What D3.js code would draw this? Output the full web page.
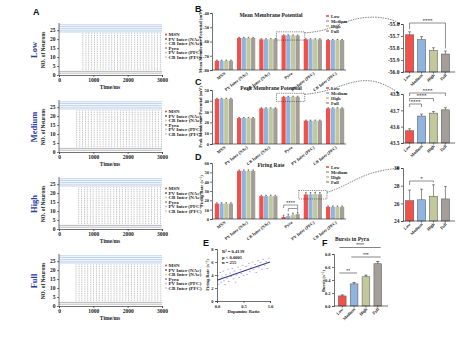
<!DOCTYPE html>
<html>
<head>
<meta charset="utf-8">
<script src="https://cdn.jsdelivr.net/npm/d3@7"></script>
<style>
html, body { margin: 0; padding: 0; background: #fff; }
svg { display: block; }
text { font-family: "Liberation Serif", "DejaVu Serif", serif; font-weight: bold; fill: #222; }
.letter { font-family: "Liberation Sans", Arial, sans-serif; font-size: 9px; fill: #111; }
</style>
</head>
<body>
<svg width="474" height="340"></svg>
<script>
// ---- data ----
var rasterConds = ["Low", "Medium", "High", "Full"];
var rasterTicksX = [0, 1000, 2000, 3000];
var rasterTicksY = [0, 5, 10, 15, 20, 25];
var cellTypes = ["MSN", "PV Inter (NAc)", "CB Inter (NAc)", "Pyra", "PV Inter (PFC)", "CB Inter (PFC)"];
var cellColors = ["#e8433f", "#5d6470", "#d8d27c", "#8c8c8c", "#a9c4e6", "#c9ccd2"];
var baseRows = [1, 2];
var pyraRows = [3, 4, 5, 6, 7, 8, 9, 10, 11, 12, 13, 14, 15, 16, 17, 18, 19, 20, 21, 22, 23];
var tonicRows = [24, 25, 26, 27, 28];
// burst onset times (ms) of the pyramidal population, per condition
var lowBursts = [680, 770, 850, 935, 1020, 1100, 1190, 1270, 1350, 1440, 1520, 1600, 1690, 1770, 1850, 1940, 2020, 2100, 2190, 2270, 2350, 2440, 2520, 2600, 2690, 2770, 2850, 2940];
var mediumBursts = [500, 590, 670, 760, 840, 930, 1010, 1100, 1180, 1270, 1350, 1440, 1520, 1610, 1690, 1780, 1860, 1950, 2030, 2120, 2200, 2290, 2370, 2460, 2540, 2630, 2710, 2800, 2880, 2970];
var highBursts = [560, 640, 730, 810, 900, 980, 1070, 1150, 1240, 1320, 1410, 1490, 1580, 1660, 1750, 1830, 1920, 2000, 2090, 2170, 2260, 2340, 2430, 2510, 2600, 2680, 2770, 2850, 2940];
var fullBursts = [480, 570, 650, 740, 820, 910, 990, 1080, 1160, 1250, 1330, 1420, 1500, 1590, 1670, 1760, 1840, 1930, 2010, 2100, 2180, 2270, 2350, 2440, 2520, 2610, 2690, 2780, 2860, 2950];
var rasterBursts = [lowBursts, mediumBursts, highBursts, fullBursts];

var conds = ["Low", "Medium", "High", "Full"];
var condColors = ["#f2504b", "#8fb4df", "#c3c89c", "#a49e98"];

// B: mean membrane potential (mV), rows = cell types, cols = Low/Medium/High/Full
var meanPotential = [
  [-73.5, -73.5, -73.5, -73.5],
  [-57.5, -57.5, -57.5, -57.5],
  [-58.5, -58.5, -58.4, -58.4],
  [-55.69, -55.73, -55.82, -55.85],
  [-58.5, -58.5, -58.5, -58.5],
  [-59.0, -59.0, -59.0, -59.0]
];
var meanPotTicks = [-80, -70, -60, -50, -40];
var pyraMeanPot = [-55.69, -55.73, -55.82, -55.85];
var pyraMeanPotErr = [0.025, 0.025, 0.022, 0.025];
var pyraMeanPotTicks = [-56.0, -55.9, -55.8, -55.7, -55.6];
var pyraMeanPotSig = [["Low", "Full", "****"]];

// C: peak membrane potential (mV)
var peakPotential = [
  [41.8, 41.8, 41.8, 41.8],
  [24.0, 24.0, 24.0, 24.0],
  [33.0, 33.0, 33.0, 33.0],
  [43.58, 43.67, 43.68, 43.70],
  [21.6, 21.6, 21.6, 21.6],
  [33.0, 33.0, 33.0, 33.0]
];
var peakPotTicks = [0, 10, 20, 30, 40, 50];
var pyraPeakPot = [43.575, 43.665, 43.683, 43.703];
var pyraPeakPotErr = [0.012, 0.012, 0.01, 0.013];
var pyraPeakPotTicks = [43.5, 43.6, 43.7, 43.8];
var pyraPeakPotSig = [["Low", "Medium", "****"], ["Low", "High", "****"], ["Low", "Full", "****"]];

// D: firing rate (1/s)
var firingRate = [
  [16.5, 16.5, 16.5, 16.5],
  [51.5, 51.5, 51.5, 51.5],
  [24.5, 24.5, 24.5, 24.5],
  [2.2, 3.4, 4.4, 5.2],
  [26.3, 26.4, 26.8, 26.5],
  [13.0, 13.0, 13.0, 13.0]
];
var firingRateErr = [0.3, 0.4, 0.3, 1.2, 1.2, 0.3];
var firingTicks = [0, 10, 20, 30, 40, 50, 60];
var pvPfcRate = [26.3, 26.4, 26.8, 26.5];
var pvPfcRateErr = [1.2, 1.2, 1.3, 1.4];
var pvPfcTicks = [24, 26, 28, 30];
var pvPfcSig = [["Low", "High", "*"]];

// E: firing rate vs dopamine ratio
var dopamineRatio = [0.02, 0.03, 0.05, 0.06, 0.08, 0.10, 0.12, 0.13, 0.15, 0.17, 0.19, 0.21, 0.22, 0.25, 0.27, 0.29, 0.31, 0.33, 0.35, 0.37, 0.40, 0.42, 0.44, 0.46, 0.48, 0.50, 0.52, 0.55, 0.57, 0.60, 0.62, 0.64, 0.67, 0.69, 0.72, 0.74, 0.77, 0.79, 0.82, 0.85, 0.87, 0.90, 0.93, 0.95, 0.98];
var scatterRate = [3.9, 2.6, 3.3, 4.4, 2.9, 3.7, 4.6, 3.1, 2.5, 4.1, 3.5, 4.9, 3.0, 4.3, 3.8, 5.0, 3.4, 4.6, 2.9, 4.0, 5.2, 3.6, 4.8, 4.2, 5.5, 3.9, 4.7, 5.3, 4.1, 5.8, 4.5, 5.1, 6.0, 4.8, 5.6, 4.4, 6.2, 5.2, 5.9, 4.9, 6.4, 5.5, 6.1, 5.0, 6.6];
var fitIntercept = 3.2, fitSlope = 2.8;
var fitStats = ["R\u00B2 = 0.4139", "p < 0.0001", "n = 255"];
var ratioTicks = [0, 0.5, 1.0];
var rateTicks = [0, 2, 4, 6, 8];

// F: bursts in pyra
var burstRate = [0.155, 0.34, 0.45, 0.65];
var burstRateErr = [0.015, 0.02, 0.025, 0.035];
var burstTicks = [0, 0.2, 0.4, 0.6, 0.8];
var burstSig = [["Low", "Medium", "**"], ["Medium", "Full", "***"], ["Low", "Full", "****"]];

// ---- drawing ----
var svg = d3.select("svg");
var serif = '"Liberation Serif", "DejaVu Serif", serif';

function styleAxis(g, fs) {
  g.attr("font-family", serif).attr("font-size", fs).attr("font-weight", "bold");
  g.selectAll("path, line").attr("stroke", "#333").attr("stroke-width", 0.7);
  g.selectAll("text").attr("fill", "#222");
}

function letter(t, x, y) {
  svg.append("text").attr("class", "letter").attr("x", x).attr("y", y).text(t);
}

function vLabel(t, x, y, fs) {
  svg.append("text").attr("transform", "translate(" + x + "," + y + ") rotate(-90)")
    .attr("text-anchor", "middle").attr("font-size", fs).text(t);
}

// A: raster plots
letter("A", 33, 15);
rasterConds.forEach(function (cond, i) {
  var dy = i * 77;
  var x = d3.scaleLinear().domain([0, 3000]).range([59, 162]);
  var y = d3.scaleLinear().domain([0, 29]).range([75 + dy, 23 + dy]);
  var g = svg.append("g");

  g.selectAll(".base").data(baseRows).enter().append("line")
    .attr("x1", x(0)).attr("x2", x(3000)).attr("y1", function (r) { return y(r); }).attr("y2", function (r) { return y(r); })
    .attr("stroke", "#a7abb0").attr("stroke-width", 0.8);
  g.selectAll(".tonic").data(tonicRows).enter().append("line")
    .attr("x1", x(0)).attr("x2", x(3000)).attr("y1", function (r) { return y(r); }).attr("y2", function (r) { return y(r); })
    .attr("stroke", "#b7cde9").attr("stroke-width", 0.9);

  rasterBursts[i].forEach(function (t) {
    g.selectAll(null).data(pyraRows).enter().append("rect")
      .attr("x", x(t)).attr("y", function (r) { return y(r) - 0.5; })
      .attr("width", 1).attr("height", 1).attr("fill", "#bdbdbd");
  });

  var ax = g.append("g").attr("transform", "translate(0," + (75 + dy) + ")")
    .call(d3.axisBottom(x).tickValues(rasterTicksX).tickSize(2).tickPadding(1.5).tickFormat(d3.format("d")));
  styleAxis(ax, 5.5);
  var ay = g.append("g").attr("transform", "translate(59,0)")
    .call(d3.axisLeft(y).tickValues(rasterTicksY).tickSize(2).tickPadding(1.5));
  styleAxis(ay, 5.5);
  ay.select(".domain").attr("d", "M0," + y(0) + "V" + y(29));

  svg.append("text").attr("x", 110).attr("y", 89 + dy).attr("text-anchor", "middle").attr("font-size", 5.5).text("Time/ms");
  vLabel("NO. of Neurons", 45, 50 + dy, 5.5);
  svg.append("text").attr("transform", "translate(37," + (50 + dy) + ") rotate(-90)")
    .attr("text-anchor", "middle").attr("font-size", 8.5).style("fill", "#2f3a9c").text(cond);

  cellTypes.forEach(function (c, k) {
    svg.append("circle").attr("cx", 166).attr("cy", 34.5 + dy + k * 4.5).attr("r", 1).attr("fill", cellColors[k]);
    svg.append("text").attr("x", 168.5).attr("y", 36.3 + dy + k * 4.5).attr("font-size", 5).text(c);
  });
});

// grouped bar panels B, C, D
var x0 = d3.scaleBand().domain(cellTypes).range([213, 346]).paddingInner(0.18).paddingOuter(0.08);
var x1 = d3.scaleBand().domain(conds).range([0, x0.bandwidth()]).paddingInner(0.1);

function barPanel(cfg) {
  var y = d3.scaleLinear().domain(cfg.domain).range(cfg.range);
  var g = svg.append("g");
  cellTypes.forEach(function (c, ci) {
    var grp = g.append("g").attr("transform", "translate(" + x0(c) + ",0)");
    grp.selectAll("rect").data(cfg.values[ci]).enter().append("rect")
      .attr("x", function (d, k) { return x1(conds[k]); })
      .attr("y", function (d) { return y(d); })
      .attr("width", x1.bandwidth())
      .attr("height", function (d) { return y(cfg.domain[0]) - y(d); })
      .attr("fill", function (d, k) { return condColors[k]; });
    var e = cfg.err ? cfg.err[ci] : 0;
    grp.selectAll("path").data(cfg.values[ci]).enter().append("path")
      .attr("d", function (d, k) {
        var cx = x1(conds[k]) + x1.bandwidth() / 2, top = y(d + e) - 0.6;
        return "M" + (cx - 0.8) + "," + top + "H" + (cx + 0.8) + "M" + cx + "," + top + "V" + y(d);
      })
      .attr("stroke", "#333").attr("stroke-width", 0.6);
  });
  var ax = g.append("g").attr("transform", "translate(0," + cfg.range[0] + ")")
    .call(d3.axisBottom(x0).tickSize(0).tickFormat(""));
  styleAxis(ax, 4.5);
  ax.select(".domain").attr("d", "M212,0H346");
  cellTypes.forEach(function (c) {
    svg.append("text")
      .attr("transform", "translate(" + (x0(c) + x0.bandwidth() / 2 + 2) + "," + (cfg.range[0] + 4) + ") rotate(-38)")
      .attr("text-anchor", "end").attr("font-size", 4.3).text(c);
  });
  var ay = g.append("g").attr("transform", "translate(212,0)")
    .call(d3.axisLeft(y).tickValues(cfg.ticks).tickSize(2).tickPadding(1).tickFormat(function (d) { return String(d); }));
  styleAxis(ay, 4.5);
  vLabel(cfg.ylabel, cfg.ylabelX, (cfg.range[0] + cfg.range[1]) / 2, 4.5);
  svg.append("text").attr("x", 271).attr("y", cfg.titleY).attr("text-anchor", "middle").attr("font-size", 5.5).text(cfg.title);
  conds.forEach(function (c, k) {
    var ly = cfg.legendY + k * 5;
    svg.append("rect").attr("x", 326).attr("y", ly - 0.8).attr("width", 3).attr("height", 1.6).attr("fill", condColors[k]);
    svg.append("text").attr("x", 331).attr("y", ly + 1.6).attr("font-size", 4.5).text(c);
  });
  // dotted box around the zoomed group
  var bc = cellTypes.indexOf(cfg.boxed);
  var hi = d3.max(cfg.values[bc]), lo = d3.min(cfg.values[bc]);
  var box = {
    x1: x0(cfg.boxed) - 5, x2: x0(cfg.boxed) + x0.bandwidth() + 5,
    y1: y(hi) - 3.5, y2: y(lo) + 4.5
  };
  svg.append("rect").attr("x", box.x1).attr("y", box.y1).attr("width", box.x2 - box.x1).attr("height", box.y2 - box.y1)
    .attr("fill", "none").attr("stroke", "#333").attr("stroke-width", 0.6).attr("stroke-dasharray", "1.2,1");
  return { y: y, box: box };
}

letter("B", 195, 12);
var pB = barPanel({
  domain: [-80, -40], range: [70, 13], ticks: meanPotTicks, values: meanPotential,
  ylabel: "Mean Membrane Potential (mV)", ylabelX: 202, title: "Mean Membrane Potential",
  titleY: 17, legendY: 16, boxed: "Pyra"
});
letter("C", 195, 85);
var pC = barPanel({
  domain: [0, 50], range: [144, 90], ticks: peakPotTicks, values: peakPotential,
  ylabel: "Peak Membrane Potential (mV)", ylabelX: 202, title: "Peak Membrane Potential",
  titleY: 90, legendY: 88, boxed: "Pyra"
});
letter("D", 195, 160);
var pD = barPanel({
  domain: [0, 60], range: [219, 163], ticks: firingTicks, values: firingRate, err: firingRateErr,
  ylabel: "Firing Rate (s\u207B\u00B9)", ylabelX: 203, title: "Firing Rate",
  titleY: 167, legendY: 167, boxed: "PV Inter (PFC)"
});

// pyra significance in D
(function () {
  var gx = x0("Pyra");
  var cx = function (c) { return gx + x1(c) + x1.bandwidth() / 2; };
  var lvl = [[conds[0], conds[3], 205], [conds[1], conds[3], 208.5]];
  lvl.forEach(function (l) {
    svg.append("path").attr("d", "M" + cx(l[0]) + "," + (l[2] + 3) + "V" + l[2] + "H" + cx(l[1]) + "V" + (l[2] + 3))
      .attr("fill", "none").attr("stroke", "#333").attr("stroke-width", 0.5);
  });
  svg.append("text").attr("x", gx + x0.bandwidth() / 2).attr("y", 204).attr("text-anchor", "middle").attr("font-size", 4.5).text("****");
})();

// inset bar charts
var xi = d3.scaleBand().domain(conds).range([403, 452]).paddingInner(0.3).paddingOuter(0.2);

function insetPanel(cfg) {
  var y = d3.scaleLinear().domain(cfg.domain).range(cfg.range);
  var g = svg.append("g");
  g.selectAll("rect").data(cfg.values).enter().append("rect")
    .attr("x", function (d, k) { return xi(conds[k]); })
    .attr("y", function (d) { return y(d); })
    .attr("width", xi.bandwidth())
    .attr("height", function (d) { return y(cfg.domain[0]) - y(d); })
    .attr("fill", function (d, k) { return condColors[k]; })
    .attr("stroke", "#555").attr("stroke-width", 0.5);
  g.selectAll("path.err").data(cfg.values).enter().append("path")
    .attr("d", function (d, k) {
      var cx = xi(conds[k]) + xi.bandwidth() / 2, top = y(d + cfg.err[k]);
      return "M" + (cx - 1.5) + "," + top + "H" + (cx + 1.5) + "M" + cx + "," + top + "V" + y(d);
    })
    .attr("stroke", "#444").attr("stroke-width", 0.6);
  var ax = g.append("g").attr("transform", "translate(0," + cfg.range[0] + ")")
    .call(d3.axisBottom(xi).tickSize(1.5).tickFormat(""));
  styleAxis(ax, 4.5);
  ax.select(".domain").attr("d", "M403,0H455");
  conds.forEach(function (c) {
    svg.append("text")
      .attr("transform", "translate(" + (xi(c) + xi.bandwidth() / 2 + 1.5) + "," + (cfg.range[0] + 3.5) + ") rotate(-45)")
      .attr("text-anchor", "end").attr("font-size", 4.3).text(c);
  });
  var ay = g.append("g").attr("transform", "translate(403,0)")
    .call(d3.axisLeft(y).tickValues(cfg.ticks).tickSize(2).tickPadding(1.5).tickFormat(cfg.fmt));
  styleAxis(ay, 5.5);
  cfg.sig.forEach(function (s, k) {
    var a = conds.indexOf(s[0]), b = conds.indexOf(s[1]);
    var ly = cfg.sigY[k];
    var ax1 = xi(s[0]) + xi.bandwidth() / 2, ax2 = xi(s[1]) + xi.bandwidth() / 2;
    var da = Math.min(y(cfg.values[a] + cfg.err[a]) - 2.5, ly + cfg.drop), db = Math.min(y(cfg.values[b] + cfg.err[b]) - 2.5, ly + cfg.drop);
    svg.append("path").attr("d", "M" + ax1 + "," + da + "V" + ly + "H" + ax2 + "V" + db)
      .attr("fill", "none").attr("stroke", "#444").attr("stroke-width", 0.6);
    svg.append("text").attr("x", (ax1 + ax2) / 2).attr("y", ly - 1.2).attr("text-anchor", "middle").attr("font-size", 5).text(s[2]);
  });
  return y;
}

var fmtNeg = function (d) { return d3.format(".1f")(d).replace("\u2212", "-"); };
insetPanel({
  domain: [-56.0, -55.6], range: [72, 24], values: pyraMeanPot, err: pyraMeanPotErr,
  ticks: pyraMeanPotTicks, fmt: fmtNeg, sig: pyraMeanPotSig, sigY: [23], drop: 30
});
insetPanel({
  domain: [43.5, 43.8], range: [143, 94], values: pyraPeakPot, err: pyraPeakPotErr,
  ticks: pyraPeakPotTicks, fmt: d3.format(".1f"), sig: pyraPeakPotSig, sigY: [104, 98.5, 93], drop: 3
});
insetPanel({
  domain: [24, 30], range: [221, 168], values: pvPfcRate, err: pvPfcRateErr,
  ticks: pvPfcTicks, fmt: d3.format("d"), sig: pvPfcSig, sigY: [181], drop: 4
});

// dashed connector arrows from boxes to insets
svg.append("defs").append("marker").attr("id", "ah").attr("viewBox", "0 0 6 6").attr("refX", 5).attr("refY", 3)
  .attr("markerWidth", 4).attr("markerHeight", 4).attr("orient", "auto")
  .append("path").attr("d", "M0,0L6,3L0,6Z").attr("fill", "#222");
var curve = d3.line().curve(d3.curveBasis);
function connector(pts) {
  svg.append("path").attr("d", curve(pts)).attr("fill", "none").attr("stroke", "#333")
    .attr("stroke-width", 0.6).attr("stroke-dasharray", "1.5,1").attr("marker-end", "url(#ah)");
}
connector([[pB.box.x2, pB.box.y1 + 1], [325, 31], [350, 19], [376, 16], [394, 20], [400, 24]]);
connector([[pC.box.x2, pC.box.y1 + 1], [325, 92], [350, 82], [372, 79], [392, 88], [398, 93]]);
connector([[pD.box.x2, pD.box.y1 + 2], [340, 188], [356, 179], [376, 171], [399, 168]]);

// E: scatter with regression
letter("E", 203, 246);
(function () {
  var x = d3.scaleLinear().domain([0, 1]).range([217, 270]);
  var y = d3.scaleLinear().domain([0, 8]).range([301, 249]);
  var g = svg.append("g");
  g.selectAll("rect").data(dopamineRatio).enter().append("rect")
    .attr("x", function (d) { return x(d) - 0.8; })
    .attr("y", function (d, k) { return y(scatterRate[k]) - 0.4; })
    .attr("width", 1.6).attr("height", 0.8).attr("fill", "#a493d6");
  g.append("line").attr("x1", x(0)).attr("x2", x(1))
    .attr("y1", y(fitIntercept)).attr("y2", y(fitIntercept + fitSlope))
    .attr("stroke", "#343a8c").attr("stroke-width", 1.1);
  var ax = g.append("g").attr("transform", "translate(0,301)")
    .call(d3.axisBottom(x).tickValues(ratioTicks).tickSize(2).tickPadding(1.5).tickFormat(d3.format(".1f")));
  styleAxis(ax, 4.5);
  var ay = g.append("g").attr("transform", "translate(217,0)")
    .call(d3.axisLeft(y).tickValues(rateTicks).tickSize(2).tickPadding(1.5));
  styleAxis(ay, 4.5);
  fitStats.forEach(function (s, k) {
    svg.append("text").attr("x", 222).attr("y", 253 + k * 5.5).attr("font-size", 4.6).text(s);
  });
  svg.append("text").attr("x", 243.5).attr("y", 313).attr("text-anchor", "middle").attr("font-size", 4.6).text("Dopamine Ratio");
  vLabel("Firing Rate (s\u207B\u00B9)", 209, 275, 4.5);
})();

// F: bursts in Pyra
letter("F", 322, 246);
(function () {
  var x = d3.scaleBand().domain(conds).range([336, 384]).paddingInner(0.35).paddingOuter(0.2);
  var y = d3.scaleLinear().domain([0, 0.8]).range([306, 254]);
  var g = svg.append("g");
  g.selectAll("rect").data(burstRate).enter().append("rect")
    .attr("x", function (d, k) { return x(conds[k]); })
    .attr("y", function (d) { return y(d); })
    .attr("width", x.bandwidth())
    .attr("height", function (d) { return y(0) - y(d); })
    .attr("fill", function (d, k) { return condColors[k]; })
    .attr("stroke", "#555").attr("stroke-width", 0.5);
  g.selectAll("path.err").data(burstRate).enter().append("path")
    .attr("d", function (d, k) {
      var cx = x(conds[k]) + x.bandwidth() / 2, top = y(d + burstRateErr[k]);
      return "M" + (cx - 1.5) + "," + top + "H" + (cx + 1.5) + "M" + cx + "," + top + "V" + y(d);
    })
    .attr("stroke", "#333").attr("stroke-width", 0.7);
  var ax = g.append("g").attr("transform", "translate(0,306)")
    .call(d3.axisBottom(x).tickSize(1.5).tickFormat(""));
  styleAxis(ax, 4.5);
  ax.select(".domain").attr("d", "M334,0H388");
  conds.forEach(function (c) {
    svg.append("text")
      .attr("transform", "translate(" + (x(c) + x.bandwidth() / 2 + 1.5) + ",309.5) rotate(-45)")
      .attr("text-anchor", "end").attr("font-size", 4.3).text(c);
  });
  var ay = g.append("g").attr("transform", "translate(334,0)")
    .call(d3.axisLeft(y).tickValues(burstTicks).tickSize(2).tickPadding(1.5).tickFormat(d3.format(".1f")));
  styleAxis(ay, 4.5);
  var sigY = [273, 257, 247.5];
  burstSig.forEach(function (s, k) {
    var a1 = x(s[0]) + 1, a2 = x(s[1]) + x.bandwidth() - 1;
    svg.append("line").attr("x1", a1).attr("x2", a2).attr("y1", sigY[k]).attr("y2", sigY[k])
      .attr("stroke", "#333").attr("stroke-width", 0.6);
    svg.append("text").attr("x", (a1 + a2) / 2).attr("y", sigY[k] - 1.2).attr("text-anchor", "middle").attr("font-size", 3.8).text(s[2]);
  });
  svg.append("text").attr("x", 352).attr("y", 241).attr("text-anchor", "middle").attr("font-size", 5.5).text("Bursts in Pyra");
  vLabel("Bursts (s\u207B\u00B9)", 325, 281, 4.5);
})();
</script>
</body>
</html>
